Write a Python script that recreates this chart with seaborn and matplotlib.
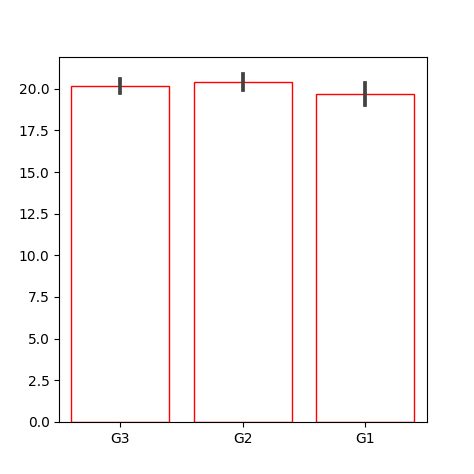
import matplotlib
matplotlib.use("Agg")
import matplotlib.pyplot as plt
import seaborn as sns
import pandas as pd

groups = ["G3", "G2", "G1"]
means = [20.18, 20.40, 19.68]
err_low = [19.77, 19.91, 19.02]
err_high = [20.56, 20.87, 20.37]

df = pd.DataFrame({"group": groups, "value": means})

fig, ax = plt.subplots(figsize=(4.74, 4.74), dpi=100)
sns.barplot(data=df, x="group", y="value", order=groups, errorbar=None,
            facecolor="white", edgecolor="red", linewidth=1.0, ax=ax)
for i, (lo, hi) in enumerate(zip(err_low, err_high)):
    ax.plot([i, i], [lo, hi], color=".26", linewidth=2.7,
            solid_capstyle="projecting")
ax.set_xlim(-0.5, len(groups) - 0.5)
ax.set_xlabel("")
ax.set_ylabel("")
fig.savefig("out.png", dpi=100)
